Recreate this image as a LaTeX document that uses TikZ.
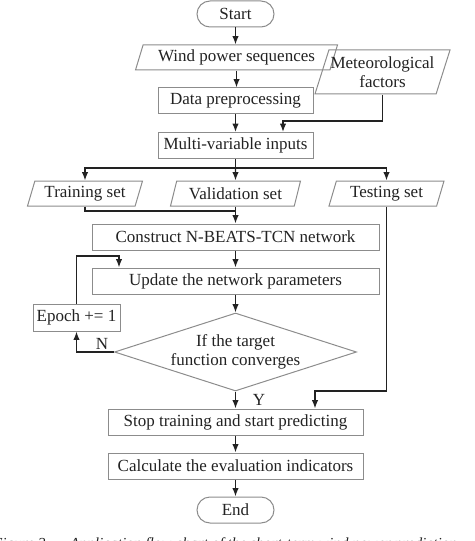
\documentclass[tikz,border=0pt]{standalone}
\usepackage{fontspec}
\setmainfont{Liberation Serif}
\usetikzlibrary{arrows.meta,shapes.geometric,calc}
\definecolor{FlowInk}{HTML}{222222}
\definecolor{FlowRule}{HTML}{8C8C8C}
\definecolor{FlowText}{HTML}{222222}

\begin{document}
\begin{tikzpicture}[x=0.6pt,y=-0.6pt]
    \tikzset{
      box/.style={rectangle, draw=FlowRule, line width=.6pt, inner sep=1pt,
        minimum height=15.6pt, text=FlowText, font=\fontsize{10.2}{11.5}\selectfont},
      term/.style={box, rounded corners=7.8pt, minimum width=46.2pt},
      data/.style={box, trapezium, trapezium left angle=68, trapezium right angle=112,
        trapezium stretches body, minimum height=15pt},
      decide/.style={box, diamond, aspect=3.1, inner sep=0pt, minimum width=145.2pt,
        minimum height=46.8pt, align=center},
      flow/.style={-{Latex[length=5pt,width=3.8pt]},draw=FlowInk,line width=.8pt},
      link/.style={draw=FlowInk,line width=.8pt},
      tag/.style={text=FlowText,font=\fontsize{10.2}{11.5}\selectfont,inner sep=1pt}
    }
    \useasboundingbox (0,0) rectangle (474,541);
    \clip (0,0) rectangle (474,541);
    \node[term] (start) at (235.5,14) {Start};
    \node[data, minimum width=121.2pt] (wind) at (236.5,57.5) {Wind power sequences};
    \node[data, minimum width=78.6pt, minimum height=26.4pt, align=center] (meteo)
      at (382.5,72) {Meteorological\\factors};
    \node[box, minimum width=93pt] (prep) at (235.5,101) {Data preprocessing};
    \node[box, minimum width=93pt] (multi) at (235.5,145.5) {Multi-variable inputs};
    \node[data, minimum width=69pt] (train) at (85,193.5) {Training set};
    \node[data, minimum width=78pt] (valid) at (235.5,193.5) {Validation set};
    \node[data, minimum width=69pt] (testset) at (386.5,193.5) {Testing set};
    \node[box, minimum width=172.2pt] (build) at (235.5,237) {Construct N-BEATS-TCN network};
    \node[box, minimum width=172.2pt] (update) at (235.5,281) {Update the network parameters};
    \node[decide] (conv) at (235.5,352) {If the target\\function converges};
    \node[box, minimum width=52.2pt, minimum height=16.2pt] (epoch) at (76.5,317.5) {Epoch += 1};
    \node[box, minimum width=153pt] (stop) at (235.5,422) {Stop training and start predicting};
    \node[box, minimum width=153pt] (eval) at (235.5,466) {Calculate the evaluation indicators};
    \node[term] (end) at (235.5,510) {End};
    % caption, cut by the lower edge as in the source
    \node[anchor=base west, text=FlowText, font=\itshape\fontsize{9.2}{10}\selectfont] (cap)
      at (-13,548) {Figure 2\hspace{1.6em}Application flow chart of the short-term wind power prediction};
    \coordinate (mj) at (283,121);
    \coordinate (br) at (235.5,168);
    \coordinate (tj) at (235.5,211);
    \coordinate (ej) at (119,256);
    \coordinate (tt) at (315,391);
    \foreach \a/\b in {start/wind,wind/prep,prep/multi,valid/build,build/update,update/conv,stop/eval,eval/end}
      \draw[flow] (\a.south) -- (\a.south |- \b.north);
    \draw[link] (multi.south) -- (br);
    \draw[flow] (br) -| (train.north);
    \draw[flow] (br) -| (testset.north);
    \draw[flow] (br) -- (valid.north);
    \draw[link] (train.south) |- (tj);
    \draw[flow] (meteo.south) |- (mj) -- (mj |- multi.north);
    \draw[flow] (conv.west) -| (epoch.south) node[tag, pos=.16, above] {N};
    \draw[flow] (epoch.north) |- (ej) -- (ej |- update.north);
    \draw[flow] (conv.south) -- (stop.north) node[tag, midway, right, xshift=9pt] {Y};
    \draw[flow] (testset.south) |- (tt) -- (tt |- stop.north);
  \end{tikzpicture}
\end{document}
